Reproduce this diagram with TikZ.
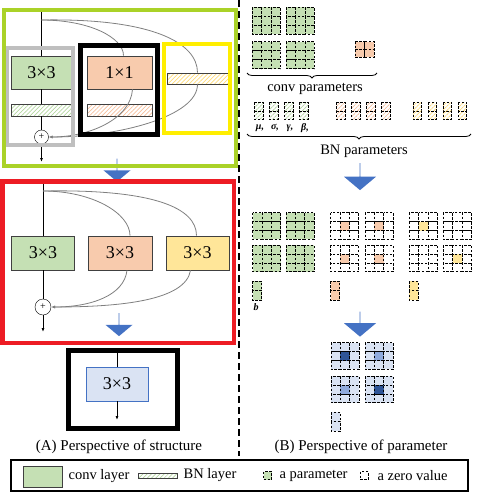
\documentclass[tikz,border=0pt]{standalone}
\usepackage{fontspec}
\setmainfont{Liberation Serif}
\usetikzlibrary{positioning,arrows.meta,shapes.arrows,patterns.meta,decorations.pathreplacing}
\definecolor{framegreen}{RGB}{170,210,40}
\definecolor{framegray}{RGB}{191,191,191}
\definecolor{frameyellow}{RGB}{255,238,0}
\definecolor{framered}{RGB}{237,28,36}
\definecolor{convgreen}{RGB}{197,224,180}
\definecolor{convorange}{RGB}{248,203,173}
\definecolor{convyellow}{RGB}{255,230,153}
\definecolor{convblue}{RGB}{218,227,243}
\definecolor{darkblue}{RGB}{47,85,151}
\definecolor{lightblue}{RGB}{143,170,220}
\definecolor{hatchgreen}{RGB}{180,215,160}
\definecolor{hatchorange}{RGB}{246,190,155}
\definecolor{hatchyellow}{RGB}{255,220,120}
\definecolor{blockline}{RGB}{64,64,64}
\definecolor{blueline}{RGB}{68,114,196}
\definecolor{arrowblue}{RGB}{68,114,196}
\definecolor{skipgray}{RGB}{127,127,127}
\tikzset{>={Latex[width=3pt,length=4pt]}}
\tikzstyle{block} = [draw=blockline, rectangle, line width=0.8pt, minimum height=33, inner sep=0, font=\fontsize{18}{18}\selectfont]
\tikzstyle{hatch} = [pattern={Lines[angle=45,distance=3pt,line width=0.7pt]}]
\tikzstyle{bnbar} = [draw=blockline, rectangle, line width=0.8pt, minimum height=12, inner sep=0, hatch]
\tikzstyle{addnode} = [draw=black, circle, fill=white, inner sep=0, minimum size=14, font=\fontsize{10}{10}\selectfont]
\tikzstyle{skip} = [draw=skipgray, line width=0.8pt]
\tikzstyle{cell} = [draw=black, line width=0.6pt, dash pattern=on 2.5pt off 1.5pt]
\tikzstyle{flowarrow} = [single arrow, fill=arrowblue, rotate=-90, inner sep=0, minimum width=27, minimum height=23, single arrow head extend=7, single arrow tip angle=100]
\tikzstyle{txt} = [inner sep=1pt, font=\fontsize{14.5}{14.5}\selectfont]
\tikzstyle{captxt} = [inner sep=1pt, font=\fontsize{15}{15}\selectfont]
\tikzstyle{greek} = [inner sep=0, font=\fontsize{10}{10}\selectfont\bfseries\itshape]
\tikzstyle{grpbrace} = [decorate, decoration={brace, mirror, amplitude=5pt}, line width=0.8pt]
% x, y, columns, rows, cell width, cell height, look
\newcommand{\pgrid}[7]{%
  \foreach \i in {1,...,#3} \foreach \j in {1,...,#4}
    \draw[cell,#7] ({#1+(\i-1)*#5},{#2+(\j-1)*#6}) rectangle +(#5,#6);}

\begin{document}
\begin{tikzpicture}[x=1pt, y=-1pt]
    \useasboundingbox (0,0) rectangle (480,498);

    % (A) structure
    \node[flowarrow] (down1) at (117,170) {};
    \node[flowarrow] (down2) at (119,324.5) {};

    \coordinate (in1) at (41.5,12);
    \coordinate (split1) at (41.5,20);
    \coordinate (out1) at (41.5,162);
    \node[block, fill=convgreen, minimum width=60] (c1) at (41.5,72.5) {3×3};
    \node[block, fill=convorange, minimum width=65] (c2) at (119.5,72.5) {1×1};
    \node[bnbar, pattern color=hatchgreen, minimum width=60] (bn1) at (41.5,110) {};
    \node[bnbar, pattern color=hatchorange, minimum width=65] (bn2) at (119.5,110) {};
    \node[bnbar, pattern color=hatchyellow, minimum width=61, minimum height=11] (bn3) at (197.5,78.5) {};
    \node[addnode] (plus1) at (41.5,137) {+};

    \draw[line width=0.8pt] (in1) -- (c1);
    \draw[line width=0.8pt] (c1) -- (bn1);
    \draw[line width=0.8pt] (bn1) -- (plus1);
    \draw[->, line width=0.8pt] (plus1) -- (out1);
    \draw[skip] (split1) .. controls +(48,0) and +(0,-18) .. ([xshift=4pt]c2.north);
    \draw[skip] (split1) .. controls +(110,-2) and +(0,-30) .. (bn3.north);
    \draw[skip, ->] ([xshift=13pt]c2.south) .. controls +(-2,30) and +(40,0) .. (plus1.east);
    \draw[skip, ->] (bn3.south) .. controls +(0,32) and +(70,0) .. (plus1.east);

    \draw[framegray, line width=4.5pt] (6.5,48) rectangle (73,145);
    \draw[black, line width=5pt] (80.5,45.5) rectangle (157.5,134.5);
    \draw[frameyellow, line width=4pt] (164,44) rectangle (230,133);
    \draw[framegreen, line width=4pt] (3.5,9.5) rectangle (236,166);

    \coordinate (in2) at (43,184);
    \coordinate (split2) at (43,191);
    \coordinate (out2) at (43,332);
    \node[block, fill=convgreen, minimum width=63, minimum height=34] (d1) at (43,253) {3×3};
    \node[block, fill=convorange, minimum width=64, minimum height=34] (d2) at (120,253) {3×3};
    \node[block, fill=convyellow, minimum width=63, minimum height=34] (d3) at (197.5,253) {3×3};
    \node[addnode, minimum size=16] (plus2) at (43,307) {+};

    \draw[line width=0.8pt] (in2) -- (d1);
    \draw[line width=0.8pt] (d1) -- (plus2);
    \draw[->, line width=0.8pt] (plus2) -- (out2);
    \draw[skip] (split2) .. controls +(50,0) and +(0,-22) .. ([xshift=10pt]d2.north);
    \draw[skip] (split2) .. controls +(110,-2) and +(0,-28) .. ([xshift=-1pt]d3.north);
    \draw[skip, ->] ([xshift=7pt]d2.south) .. controls +(-3,25) and +(40,0) .. (plus2.east);
    \draw[skip, ->] ([xshift=-7pt]d3.south) .. controls +(-5,30) and +(70,0) .. (plus2.east);

    \draw[framered, line width=4.7pt] (2.5,181.5) rectangle (234,343);

    \coordinate (in3) at (117,350);
    \coordinate (out3) at (117,420);
    \node[block, fill=convblue, draw=blueline, minimum width=62, minimum height=34] (e1) at (117,384) {3×3};
    \draw[line width=0.8pt] (in3) -- (e1);
    \draw[->, line width=0.8pt] (e1) -- (out3);
    \draw[black, line width=5pt] (68.5,350.5) rectangle (177.5,428.5);

    \node[captxt] (capA) at (119,447) {(A) Perspective of structure};

    % (B) parameters
    \foreach \x in {252,286} \foreach \y in {7.3,41.7} {\pgrid{\x}{\y}{3}{3}{9.4}{9}{fill=convgreen}}
    \pgrid{355}{41.7}{2}{2}{9.5}{7.8}{fill=convorange}
    \draw[grpbrace] (247,73) -- (377,73);
    \node[txt] (convtxt) at (315,89) {conv parameters};

    \foreach \x in {254.5,269.5,284.5,299.5} {\pgrid{\x}{102}{1}{2}{8.3}{8.8}{hatch, pattern color=hatchgreen}}
    \foreach \x in {336.5,351.5,366.5,381.5} {\pgrid{\x}{102}{1}{2}{8.3}{8.8}{hatch, pattern color=hatchorange}}
    \foreach \x in {413,428,443,458} {\pgrid{\x}{102}{1}{2}{8.3}{8.8}{hatch, pattern color=hatchyellow}}
    \foreach \s [count=\k] in {μ,σ,γ,β} \node[greek] (bnlbl\k) at ({245+15*\k},128) {\s,};
    \draw[grpbrace] (247,134) -- (471,134);
    \node[txt] (bntxt) at (364,151) {BN parameters};

    \node[flowarrow, minimum width=32, single arrow head extend=9, minimum height=27] (down3) at (360,176.5) {};

    \foreach \x in {252.7,286} \foreach \y in {212.7,245} {\pgrid{\x}{\y}{3}{3}{9.35}{8.9}{fill=convgreen}}
    \pgrid{252.7}{281}{1}{2}{9}{9.5}{fill=convgreen}
    \node[greek] (blbl) at (256,307) {b};
    \foreach \x in {330.7,365} \foreach \y in {212.7,245} {%
      \pgrid{\x}{\y}{3}{3}{9.35}{8.9}{fill=white}
      \draw[cell, fill=convorange] ({\x+9.35},{\y+8.9}) rectangle +(9.35,8.9);}
    \pgrid{330.7}{281}{1}{2}{9}{9.5}{fill=convorange}
    \foreach \x in {409.3,443.3} \foreach \y in {212.7,245} {\pgrid{\x}{\y}{3}{3}{9.35}{8.9}{fill=white}}
    \draw[cell, fill=convyellow] (418.65,221.6) rectangle +(9.35,8.9);
    \draw[cell, fill=convyellow] (452.65,253.9) rectangle +(9.35,8.9);
    \pgrid{409.3}{281}{1}{2}{9}{9.5}{fill=convyellow}

    \node[flowarrow, minimum width=32, single arrow head extend=9, minimum height=25] (down4) at (360,324) {};

    \foreach \x in {331,365} \foreach \y in {342.7,376} {\pgrid{\x}{\y}{3}{3}{9.35}{8.9}{fill=convblue}}
    \draw[cell, fill=darkblue] (340.35,351.6) rectangle +(9.35,8.9);
    \draw[cell, fill=lightblue] (374.35,351.6) rectangle +(9.35,8.9);
    \draw[cell, fill=lightblue] (340.35,384.9) rectangle +(9.35,8.9);
    \draw[cell, fill=darkblue] (374.35,384.9) rectangle +(9.35,8.9);
    \pgrid{331}{412}{1}{2}{9}{9.5}{fill=convblue}

    \node[captxt] (capB) at (361,447) {(B) Perspective of parameter};

    \draw[line width=2pt, dash pattern=on 7pt off 4pt] (239,0) -- (239,456);

    % legend
    \draw[line width=2pt] (11,460) rectangle (468,491);
    \node[draw=blockline, fill=convgreen, line width=0.8pt, minimum width=39, minimum height=21, inner sep=0] (legconv) at (42.5,476.5) {};
    \node[txt, right=5pt of legconv] (legconvtxt) {conv layer};
    \node[bnbar, pattern color=hatchgreen, minimum width=39, minimum height=5] (legbn) at (157.5,475.5) {};
    \node[txt, right=5pt of legbn] (legbntxt) {BN layer};
    \node[cell, fill=convgreen, minimum size=8, inner sep=0] (legpar) at (267.5,475.5) {};
    \node[txt, right=6.5pt of legpar] (legpartxt) {a parameter};
    \node[cell, minimum size=8, inner sep=0] (legzero) at (364,475.5) {};
    \node[txt, right=8pt of legzero] (legzerotxt) {a zero value};

\end{tikzpicture}
\end{document}
